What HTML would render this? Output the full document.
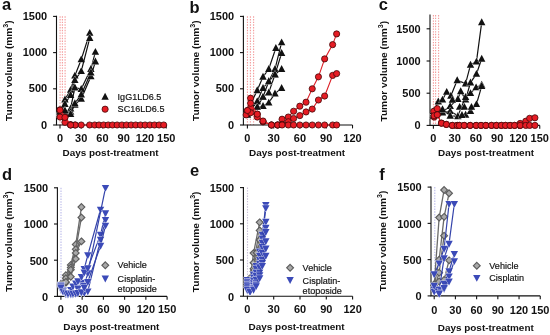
<!DOCTYPE html>
<html><head><meta charset="utf-8"><title>Figure</title>
<style>html,body{margin:0;padding:0;background:#fff}svg{display:block}text{font-family:"Liberation Sans",sans-serif;fill:#111}</style>
</head><body>
<svg width="550" height="335" viewBox="0 0 550 335">
<rect width="550" height="335" fill="#fff"/>
<text transform="translate(2 10.2) scale(1.03 1)" font-size="16" font-weight="700" text-anchor="start">a</text>
<line x1="60.1" x2="60.1" y1="16.3" y2="125.0" stroke="#f49c9c" stroke-width="1.1" stroke-dasharray="1.4 1.29"/>
<line x1="62.4" x2="62.4" y1="16.3" y2="125.0" stroke="#f49c9c" stroke-width="1.1" stroke-dasharray="1.4 1.29"/>
<line x1="65.1" x2="65.1" y1="16.3" y2="125.0" stroke="#f49c9c" stroke-width="1.1" stroke-dasharray="1.4 1.29"/>
<path d="M56.5 15.8V125.0H166.3" fill="none" stroke="#111" stroke-width="1.1"/>
<line x1="53.1" x2="56.5" y1="125" y2="125" stroke="#111" stroke-width="1.1"/>
<text transform="translate(47.2 128.65) scale(1.1 1)" font-size="10" font-weight="700" text-anchor="end">0</text>
<line x1="53.1" x2="56.5" y1="88.8" y2="88.8" stroke="#111" stroke-width="1.1"/>
<text transform="translate(47.2 92.45) scale(1.1 1)" font-size="10" font-weight="700" text-anchor="end">500</text>
<line x1="53.1" x2="56.5" y1="52.6" y2="52.6" stroke="#111" stroke-width="1.1"/>
<text transform="translate(47.2 56.25) scale(1.1 1)" font-size="10" font-weight="700" text-anchor="end">1000</text>
<line x1="53.1" x2="56.5" y1="16.4" y2="16.4" stroke="#111" stroke-width="1.1"/>
<text transform="translate(47.2 20.05) scale(1.1 1)" font-size="10" font-weight="700" text-anchor="end">1500</text>
<line x1="60" x2="60" y1="125.0" y2="128.4" stroke="#111" stroke-width="1.1"/>
<text transform="translate(60 142.3) scale(1.1 1)" font-size="10" font-weight="700" text-anchor="middle">0</text>
<line x1="81.24" x2="81.24" y1="125.0" y2="128.4" stroke="#111" stroke-width="1.1"/>
<text transform="translate(81.24 142.3) scale(1.1 1)" font-size="10" font-weight="700" text-anchor="middle">30</text>
<line x1="102.48" x2="102.48" y1="125.0" y2="128.4" stroke="#111" stroke-width="1.1"/>
<text transform="translate(102.48 142.3) scale(1.1 1)" font-size="10" font-weight="700" text-anchor="middle">60</text>
<line x1="123.72" x2="123.72" y1="125.0" y2="128.4" stroke="#111" stroke-width="1.1"/>
<text transform="translate(123.72 142.3) scale(1.1 1)" font-size="10" font-weight="700" text-anchor="middle">90</text>
<line x1="144.96" x2="144.96" y1="125.0" y2="128.4" stroke="#111" stroke-width="1.1"/>
<text transform="translate(144.96 142.3) scale(1.1 1)" font-size="10" font-weight="700" text-anchor="middle">120</text>
<line x1="166.2" x2="166.2" y1="125.0" y2="128.4" stroke="#111" stroke-width="1.1"/>
<text transform="translate(166.2 142.3) scale(1.1 1)" font-size="10" font-weight="700" text-anchor="middle">150</text>
<text transform="translate(110.5 156.2) scale(1.015 1)" font-size="9.8" font-weight="700" text-anchor="middle">Days post-treatment</text>
<text transform="translate(11.9 70.65) rotate(-90) scale(1.035 1)" font-size="9.8" font-weight="700" text-anchor="middle">Tumor volume (mm<tspan font-size="6.8" dy="-4">3</tspan><tspan dy="4">)</tspan></text>
<polyline points="60,112.69 64.96,99.59 70.62,89.89 74.87,75.7 81.24,59.48 89.74,32.91" fill="none" stroke="#111" stroke-width="1.2"/>
<path d="M60 108.7L63.7 115.58H56.3Z" fill="#111" stroke="#fff" stroke-width="0.6" paint-order="stroke"/>
<path d="M64.96 95.59L68.66 102.47H61.26Z" fill="#111" stroke="#fff" stroke-width="0.6" paint-order="stroke"/>
<path d="M70.62 85.89L74.32 92.77H66.92Z" fill="#111" stroke="#fff" stroke-width="0.6" paint-order="stroke"/>
<path d="M74.87 71.7L78.57 78.58H71.17Z" fill="#111" stroke="#fff" stroke-width="0.6" paint-order="stroke"/>
<path d="M81.24 55.48L84.94 62.36H77.54Z" fill="#111" stroke="#fff" stroke-width="0.6" paint-order="stroke"/>
<path d="M89.74 28.91L93.44 35.79H86.04Z" fill="#111" stroke="#fff" stroke-width="0.6" paint-order="stroke"/>
<polyline points="60,114.14 64.96,104 70.62,95.03 74.87,80.18 81.24,71.21 89.74,38.12" fill="none" stroke="#111" stroke-width="1.2"/>
<path d="M60 110.14L63.7 117.03H56.3Z" fill="#111" stroke="#fff" stroke-width="0.6" paint-order="stroke"/>
<path d="M64.96 100.01L68.66 106.89H61.26Z" fill="#111" stroke="#fff" stroke-width="0.6" paint-order="stroke"/>
<path d="M70.62 91.03L74.32 97.91H66.92Z" fill="#111" stroke="#fff" stroke-width="0.6" paint-order="stroke"/>
<path d="M74.87 76.19L78.57 83.07H71.17Z" fill="#111" stroke="#fff" stroke-width="0.6" paint-order="stroke"/>
<path d="M81.24 67.21L84.94 74.09H77.54Z" fill="#111" stroke="#fff" stroke-width="0.6" paint-order="stroke"/>
<path d="M89.74 34.12L93.44 41.01H86.04Z" fill="#111" stroke="#fff" stroke-width="0.6" paint-order="stroke"/>
<polyline points="60,110.52 64.96,112.62 70.62,108.49 74.87,87.57 81.24,89.02 90.87,69.03 95.4,51.88" fill="none" stroke="#111" stroke-width="1.2"/>
<path d="M60 106.52L63.7 113.41H56.3Z" fill="#111" stroke="#fff" stroke-width="0.6" paint-order="stroke"/>
<path d="M64.96 108.62L68.66 115.51H61.26Z" fill="#111" stroke="#fff" stroke-width="0.6" paint-order="stroke"/>
<path d="M70.62 104.5L74.32 111.38H66.92Z" fill="#111" stroke="#fff" stroke-width="0.6" paint-order="stroke"/>
<path d="M74.87 83.57L78.57 90.46H71.17Z" fill="#111" stroke="#fff" stroke-width="0.6" paint-order="stroke"/>
<path d="M81.24 85.02L84.94 91.9H77.54Z" fill="#111" stroke="#fff" stroke-width="0.6" paint-order="stroke"/>
<path d="M90.87 65.04L94.57 71.92H87.17Z" fill="#111" stroke="#fff" stroke-width="0.6" paint-order="stroke"/>
<path d="M95.4 47.88L99.1 54.76H91.7Z" fill="#111" stroke="#fff" stroke-width="0.6" paint-order="stroke"/>
<polyline points="60,114.14 64.96,112.62 70.62,111.9 74.87,104.8 81.24,98.79 90.87,76.42 95.4,61.58" fill="none" stroke="#111" stroke-width="1.2"/>
<path d="M60 110.14L63.7 117.03H56.3Z" fill="#111" stroke="#fff" stroke-width="0.6" paint-order="stroke"/>
<path d="M64.96 108.62L68.66 115.51H61.26Z" fill="#111" stroke="#fff" stroke-width="0.6" paint-order="stroke"/>
<path d="M70.62 107.9L74.32 114.78H66.92Z" fill="#111" stroke="#fff" stroke-width="0.6" paint-order="stroke"/>
<path d="M74.87 100.8L78.57 107.69H71.17Z" fill="#111" stroke="#fff" stroke-width="0.6" paint-order="stroke"/>
<path d="M81.24 94.8L84.94 101.68H77.54Z" fill="#111" stroke="#fff" stroke-width="0.6" paint-order="stroke"/>
<path d="M90.87 72.42L94.57 79.31H87.17Z" fill="#111" stroke="#fff" stroke-width="0.6" paint-order="stroke"/>
<path d="M95.4 57.58L99.1 64.46H91.7Z" fill="#111" stroke="#fff" stroke-width="0.6" paint-order="stroke"/>
<polyline points="60,111.97 64.96,110.52 70.62,114.14 74.87,103.28 81.24,94.59 90.87,72.73" fill="none" stroke="#111" stroke-width="1.2"/>
<path d="M60 107.97L63.7 114.85H56.3Z" fill="#111" stroke="#fff" stroke-width="0.6" paint-order="stroke"/>
<path d="M64.96 106.52L68.66 113.41H61.26Z" fill="#111" stroke="#fff" stroke-width="0.6" paint-order="stroke"/>
<path d="M70.62 110.14L74.32 117.03H66.92Z" fill="#111" stroke="#fff" stroke-width="0.6" paint-order="stroke"/>
<path d="M74.87 99.28L78.57 106.17H71.17Z" fill="#111" stroke="#fff" stroke-width="0.6" paint-order="stroke"/>
<path d="M81.24 90.6L84.94 97.48H77.54Z" fill="#111" stroke="#fff" stroke-width="0.6" paint-order="stroke"/>
<path d="M90.87 68.73L94.57 75.61H87.17Z" fill="#111" stroke="#fff" stroke-width="0.6" paint-order="stroke"/>
<polyline points="60,109.8 64.96,117.04 70.62,124.64 75.1,125 81.2,125 89.6,125 94.7,125 99,125 103.6,125 108.2,125 112.5,125 117.1,125 121.9,125 126.5,125 131.1,125 135.7,125 140.5,125 145.1,125 149.9,125 154.5,125 159.1,125 163.7,125" fill="none" stroke="#dc1f26" stroke-width="1.1"/>
<circle cx="60" cy="109.8" r="3.1" fill="#e61c24" stroke="#420909" stroke-width="0.8"/>
<circle cx="64.96" cy="117.04" r="3.1" fill="#e61c24" stroke="#420909" stroke-width="0.8"/>
<circle cx="70.62" cy="124.64" r="3.1" fill="#e61c24" stroke="#420909" stroke-width="0.8"/>
<circle cx="75.1" cy="125" r="3.1" fill="#e61c24" stroke="#420909" stroke-width="0.8"/>
<circle cx="81.2" cy="125" r="3.1" fill="#e61c24" stroke="#420909" stroke-width="0.8"/>
<circle cx="89.6" cy="125" r="3.1" fill="#e61c24" stroke="#420909" stroke-width="0.8"/>
<circle cx="94.7" cy="125" r="3.1" fill="#e61c24" stroke="#420909" stroke-width="0.8"/>
<circle cx="99" cy="125" r="3.1" fill="#e61c24" stroke="#420909" stroke-width="0.8"/>
<circle cx="103.6" cy="125" r="3.1" fill="#e61c24" stroke="#420909" stroke-width="0.8"/>
<circle cx="108.2" cy="125" r="3.1" fill="#e61c24" stroke="#420909" stroke-width="0.8"/>
<circle cx="112.5" cy="125" r="3.1" fill="#e61c24" stroke="#420909" stroke-width="0.8"/>
<circle cx="117.1" cy="125" r="3.1" fill="#e61c24" stroke="#420909" stroke-width="0.8"/>
<circle cx="121.9" cy="125" r="3.1" fill="#e61c24" stroke="#420909" stroke-width="0.8"/>
<circle cx="126.5" cy="125" r="3.1" fill="#e61c24" stroke="#420909" stroke-width="0.8"/>
<circle cx="131.1" cy="125" r="3.1" fill="#e61c24" stroke="#420909" stroke-width="0.8"/>
<circle cx="135.7" cy="125" r="3.1" fill="#e61c24" stroke="#420909" stroke-width="0.8"/>
<circle cx="140.5" cy="125" r="3.1" fill="#e61c24" stroke="#420909" stroke-width="0.8"/>
<circle cx="145.1" cy="125" r="3.1" fill="#e61c24" stroke="#420909" stroke-width="0.8"/>
<circle cx="149.9" cy="125" r="3.1" fill="#e61c24" stroke="#420909" stroke-width="0.8"/>
<circle cx="154.5" cy="125" r="3.1" fill="#e61c24" stroke="#420909" stroke-width="0.8"/>
<circle cx="159.1" cy="125" r="3.1" fill="#e61c24" stroke="#420909" stroke-width="0.8"/>
<circle cx="163.7" cy="125" r="3.1" fill="#e61c24" stroke="#420909" stroke-width="0.8"/>
<polyline points="60,117.04 64.96,122.32 70.62,125 75.22,125" fill="none" stroke="#dc1f26" stroke-width="1.1"/>
<circle cx="60" cy="117.04" r="3.1" fill="#e61c24" stroke="#420909" stroke-width="0.8"/>
<circle cx="64.96" cy="122.32" r="3.1" fill="#e61c24" stroke="#420909" stroke-width="0.8"/>
<circle cx="70.62" cy="125" r="3.1" fill="#e61c24" stroke="#420909" stroke-width="0.8"/>
<circle cx="75.22" cy="125" r="3.1" fill="#e61c24" stroke="#420909" stroke-width="0.8"/>
<polyline points="60,110.16 64.96,117.4 70.62,125" fill="none" stroke="#dc1f26" stroke-width="1.1"/>
<circle cx="60" cy="110.16" r="3.1" fill="#e61c24" stroke="#420909" stroke-width="0.8"/>
<circle cx="64.96" cy="117.4" r="3.1" fill="#e61c24" stroke="#420909" stroke-width="0.8"/>
<circle cx="70.62" cy="125" r="3.1" fill="#e61c24" stroke="#420909" stroke-width="0.8"/>
<path d="M105.1 92.8L108.8 99.69H101.4Z" fill="#111" stroke="#fff" stroke-width="0.6" paint-order="stroke"/>
<text transform="translate(117.6 99.5) scale(0.985 1)" font-size="9.2" stroke="#111" stroke-width="0.18" text-anchor="start">IgG1LD6.5</text>
<circle cx="105.1" cy="109.2" r="3.1" fill="#e61c24" stroke="#420909" stroke-width="0.8"/>
<text transform="translate(117.6 111.9) scale(0.985 1)" font-size="9.2" stroke="#111" stroke-width="0.18" text-anchor="start">SC16LD6.5</text>
<text transform="translate(189.6 13) scale(1.03 1)" font-size="16" font-weight="700" text-anchor="start">b</text>
<line x1="247.45" x2="247.45" y1="16.3" y2="125.0" stroke="#f49c9c" stroke-width="1.1" stroke-dasharray="1.4 1.29"/>
<line x1="250.4" x2="250.4" y1="16.3" y2="125.0" stroke="#f49c9c" stroke-width="1.1" stroke-dasharray="1.4 1.29"/>
<line x1="253.6" x2="253.6" y1="16.3" y2="125.0" stroke="#f49c9c" stroke-width="1.1" stroke-dasharray="1.4 1.29"/>
<path d="M243.4 15.8V125.0H352.5" fill="none" stroke="#111" stroke-width="1.1"/>
<line x1="240.0" x2="243.4" y1="125" y2="125" stroke="#111" stroke-width="1.1"/>
<text transform="translate(234.1 128.65) scale(1.1 1)" font-size="10" font-weight="700" text-anchor="end">0</text>
<line x1="240.0" x2="243.4" y1="88.8" y2="88.8" stroke="#111" stroke-width="1.1"/>
<text transform="translate(234.1 92.45) scale(1.1 1)" font-size="10" font-weight="700" text-anchor="end">500</text>
<line x1="240.0" x2="243.4" y1="52.6" y2="52.6" stroke="#111" stroke-width="1.1"/>
<text transform="translate(234.1 56.25) scale(1.1 1)" font-size="10" font-weight="700" text-anchor="end">1000</text>
<line x1="240.0" x2="243.4" y1="16.4" y2="16.4" stroke="#111" stroke-width="1.1"/>
<text transform="translate(234.1 20.05) scale(1.1 1)" font-size="10" font-weight="700" text-anchor="end">1500</text>
<line x1="247.4" x2="247.4" y1="125.0" y2="128.4" stroke="#111" stroke-width="1.1"/>
<text transform="translate(247.4 142.3) scale(1.1 1)" font-size="10" font-weight="700" text-anchor="middle">0</text>
<line x1="273.68" x2="273.68" y1="125.0" y2="128.4" stroke="#111" stroke-width="1.1"/>
<text transform="translate(273.68 142.3) scale(1.1 1)" font-size="10" font-weight="700" text-anchor="middle">30</text>
<line x1="299.96" x2="299.96" y1="125.0" y2="128.4" stroke="#111" stroke-width="1.1"/>
<text transform="translate(299.96 142.3) scale(1.1 1)" font-size="10" font-weight="700" text-anchor="middle">60</text>
<line x1="326.24" x2="326.24" y1="125.0" y2="128.4" stroke="#111" stroke-width="1.1"/>
<text transform="translate(326.24 142.3) scale(1.1 1)" font-size="10" font-weight="700" text-anchor="middle">90</text>
<line x1="352.52" x2="352.52" y1="125.0" y2="128.4" stroke="#111" stroke-width="1.1"/>
<text transform="translate(352.52 142.3) scale(1.1 1)" font-size="10" font-weight="700" text-anchor="middle">120</text>
<text transform="translate(297.05 156.2) scale(1.015 1)" font-size="9.8" font-weight="700" text-anchor="middle">Days post-treatment</text>
<text transform="translate(198.8 70.65) rotate(-90) scale(1.035 1)" font-size="9.8" font-weight="700" text-anchor="middle">Tumor volume (mm<tspan font-size="6.8" dy="-4">3</tspan><tspan dy="4">)</tspan></text>
<polyline points="247.49,111.97 257.25,106.97 263.01,106.03 268.77,102.63 274.99,93.58 281.63,88" fill="none" stroke="#111" stroke-width="1.2"/>
<path d="M247.49 107.97L251.19 114.85H243.79Z" fill="#111" stroke="#fff" stroke-width="0.6" paint-order="stroke"/>
<path d="M257.25 102.98L260.95 109.86H253.55Z" fill="#111" stroke="#fff" stroke-width="0.6" paint-order="stroke"/>
<path d="M263.01 102.04L266.71 108.92H259.31Z" fill="#111" stroke="#fff" stroke-width="0.6" paint-order="stroke"/>
<path d="M268.77 98.63L272.47 105.51H265.07Z" fill="#111" stroke="#fff" stroke-width="0.6" paint-order="stroke"/>
<path d="M274.99 89.58L278.69 96.46H271.29Z" fill="#111" stroke="#fff" stroke-width="0.6" paint-order="stroke"/>
<path d="M281.63 84.01L285.33 90.89H277.93Z" fill="#111" stroke="#fff" stroke-width="0.6" paint-order="stroke"/>
<polyline points="247.49,114.14 257.25,101.47 263.01,96.98 268.77,92.49 274.99,74.61 281.63,53.03" fill="none" stroke="#111" stroke-width="1.2"/>
<path d="M247.49 110.14L251.19 117.03H243.79Z" fill="#111" stroke="#fff" stroke-width="0.6" paint-order="stroke"/>
<path d="M257.25 97.47L260.95 104.36H253.55Z" fill="#111" stroke="#fff" stroke-width="0.6" paint-order="stroke"/>
<path d="M263.01 92.99L266.71 99.87H259.31Z" fill="#111" stroke="#fff" stroke-width="0.6" paint-order="stroke"/>
<path d="M268.77 88.5L272.47 95.38H265.07Z" fill="#111" stroke="#fff" stroke-width="0.6" paint-order="stroke"/>
<path d="M274.99 70.61L278.69 77.5H271.29Z" fill="#111" stroke="#fff" stroke-width="0.6" paint-order="stroke"/>
<path d="M281.63 49.04L285.33 55.92H277.93Z" fill="#111" stroke="#fff" stroke-width="0.6" paint-order="stroke"/>
<polyline points="247.49,110.52 257.25,90.32 263.01,76.78 268.77,69.03 275.87,48.04" fill="none" stroke="#111" stroke-width="1.2"/>
<path d="M247.49 106.52L251.19 113.41H243.79Z" fill="#111" stroke="#fff" stroke-width="0.6" paint-order="stroke"/>
<path d="M257.25 86.32L260.95 93.21H253.55Z" fill="#111" stroke="#fff" stroke-width="0.6" paint-order="stroke"/>
<path d="M263.01 72.79L266.71 79.67H259.31Z" fill="#111" stroke="#fff" stroke-width="0.6" paint-order="stroke"/>
<path d="M268.77 65.04L272.47 71.92H265.07Z" fill="#111" stroke="#fff" stroke-width="0.6" paint-order="stroke"/>
<path d="M275.87 44.04L279.57 50.92H272.17Z" fill="#111" stroke="#fff" stroke-width="0.6" paint-order="stroke"/>
<polyline points="247.49,113.42 257.25,101.47 263.01,88 268.77,81.27 274.99,69.03 281.63,42.39" fill="none" stroke="#111" stroke-width="1.2"/>
<path d="M247.49 109.42L251.19 116.3H243.79Z" fill="#111" stroke="#fff" stroke-width="0.6" paint-order="stroke"/>
<path d="M257.25 97.47L260.95 104.36H253.55Z" fill="#111" stroke="#fff" stroke-width="0.6" paint-order="stroke"/>
<path d="M263.01 84.01L266.71 90.89H259.31Z" fill="#111" stroke="#fff" stroke-width="0.6" paint-order="stroke"/>
<path d="M268.77 77.27L272.47 84.16H265.07Z" fill="#111" stroke="#fff" stroke-width="0.6" paint-order="stroke"/>
<path d="M274.99 65.04L278.69 71.92H271.29Z" fill="#111" stroke="#fff" stroke-width="0.6" paint-order="stroke"/>
<path d="M281.63 38.4L285.33 45.28H277.93Z" fill="#111" stroke="#fff" stroke-width="0.6" paint-order="stroke"/>
<polyline points="247.49,114.86 257.25,106.97 263.01,96.98 268.77,81.27 274.99,74.61 281.63,69.03" fill="none" stroke="#111" stroke-width="1.2"/>
<path d="M247.49 110.87L251.19 117.75H243.79Z" fill="#111" stroke="#fff" stroke-width="0.6" paint-order="stroke"/>
<path d="M257.25 102.98L260.95 109.86H253.55Z" fill="#111" stroke="#fff" stroke-width="0.6" paint-order="stroke"/>
<path d="M263.01 92.99L266.71 99.87H259.31Z" fill="#111" stroke="#fff" stroke-width="0.6" paint-order="stroke"/>
<path d="M268.77 77.27L272.47 84.16H265.07Z" fill="#111" stroke="#fff" stroke-width="0.6" paint-order="stroke"/>
<path d="M274.99 70.61L278.69 77.5H271.29Z" fill="#111" stroke="#fff" stroke-width="0.6" paint-order="stroke"/>
<path d="M281.63 65.04L285.33 71.92H277.93Z" fill="#111" stroke="#fff" stroke-width="0.6" paint-order="stroke"/>
<polyline points="247.49,110.52 250.59,98.21 250.59,108.35 257.25,114.14 263.01,121.74 271.44,125 277.65,125 282.08,119.21 288.29,117.04 293.61,111.24 299.82,106.18 306.03,102.19 312.24,88.8 318.44,76.85 324.65,58.9 332.64,44.64 336.63,33.92" fill="none" stroke="#dc1f26" stroke-width="1.1"/>
<circle cx="247.49" cy="110.52" r="3.1" fill="#e61c24" stroke="#420909" stroke-width="0.8"/>
<circle cx="250.59" cy="98.21" r="3.1" fill="#e61c24" stroke="#420909" stroke-width="0.8"/>
<circle cx="250.59" cy="108.35" r="3.1" fill="#e61c24" stroke="#420909" stroke-width="0.8"/>
<circle cx="257.25" cy="114.14" r="3.1" fill="#e61c24" stroke="#420909" stroke-width="0.8"/>
<circle cx="263.01" cy="121.74" r="3.1" fill="#e61c24" stroke="#420909" stroke-width="0.8"/>
<circle cx="271.44" cy="125" r="3.1" fill="#e61c24" stroke="#420909" stroke-width="0.8"/>
<circle cx="277.65" cy="125" r="3.1" fill="#e61c24" stroke="#420909" stroke-width="0.8"/>
<circle cx="282.08" cy="119.21" r="3.1" fill="#e61c24" stroke="#420909" stroke-width="0.8"/>
<circle cx="288.29" cy="117.04" r="3.1" fill="#e61c24" stroke="#420909" stroke-width="0.8"/>
<circle cx="293.61" cy="111.24" r="3.1" fill="#e61c24" stroke="#420909" stroke-width="0.8"/>
<circle cx="299.82" cy="106.18" r="3.1" fill="#e61c24" stroke="#420909" stroke-width="0.8"/>
<circle cx="306.03" cy="102.19" r="3.1" fill="#e61c24" stroke="#420909" stroke-width="0.8"/>
<circle cx="312.24" cy="88.8" r="3.1" fill="#e61c24" stroke="#420909" stroke-width="0.8"/>
<circle cx="318.44" cy="76.85" r="3.1" fill="#e61c24" stroke="#420909" stroke-width="0.8"/>
<circle cx="324.65" cy="58.9" r="3.1" fill="#e61c24" stroke="#420909" stroke-width="0.8"/>
<circle cx="332.64" cy="44.64" r="3.1" fill="#e61c24" stroke="#420909" stroke-width="0.8"/>
<circle cx="336.63" cy="33.92" r="3.1" fill="#e61c24" stroke="#420909" stroke-width="0.8"/>
<polyline points="246.16,114.86 250.59,112.69 257.25,117.04 263.01,121.74 271.44,125 277.65,125 282.08,124.28 288.29,121.74 293.61,118.48 299.82,115.59 306.03,111.97 312.24,109.07 318.44,100.02 324.65,96.04 332.64,75.41 336.63,73.6" fill="none" stroke="#dc1f26" stroke-width="1.1"/>
<circle cx="246.16" cy="114.86" r="3.1" fill="#e61c24" stroke="#420909" stroke-width="0.8"/>
<circle cx="250.59" cy="112.69" r="3.1" fill="#e61c24" stroke="#420909" stroke-width="0.8"/>
<circle cx="257.25" cy="117.04" r="3.1" fill="#e61c24" stroke="#420909" stroke-width="0.8"/>
<circle cx="263.01" cy="121.74" r="3.1" fill="#e61c24" stroke="#420909" stroke-width="0.8"/>
<circle cx="271.44" cy="125" r="3.1" fill="#e61c24" stroke="#420909" stroke-width="0.8"/>
<circle cx="277.65" cy="125" r="3.1" fill="#e61c24" stroke="#420909" stroke-width="0.8"/>
<circle cx="282.08" cy="124.28" r="3.1" fill="#e61c24" stroke="#420909" stroke-width="0.8"/>
<circle cx="288.29" cy="121.74" r="3.1" fill="#e61c24" stroke="#420909" stroke-width="0.8"/>
<circle cx="293.61" cy="118.48" r="3.1" fill="#e61c24" stroke="#420909" stroke-width="0.8"/>
<circle cx="299.82" cy="115.59" r="3.1" fill="#e61c24" stroke="#420909" stroke-width="0.8"/>
<circle cx="306.03" cy="111.97" r="3.1" fill="#e61c24" stroke="#420909" stroke-width="0.8"/>
<circle cx="312.24" cy="109.07" r="3.1" fill="#e61c24" stroke="#420909" stroke-width="0.8"/>
<circle cx="318.44" cy="100.02" r="3.1" fill="#e61c24" stroke="#420909" stroke-width="0.8"/>
<circle cx="324.65" cy="96.04" r="3.1" fill="#e61c24" stroke="#420909" stroke-width="0.8"/>
<circle cx="332.64" cy="75.41" r="3.1" fill="#e61c24" stroke="#420909" stroke-width="0.8"/>
<circle cx="336.63" cy="73.6" r="3.1" fill="#e61c24" stroke="#420909" stroke-width="0.8"/>
<polyline points="247.49,110.52 250.59,103.28 257.25,114.14 263.01,121.02 271.44,125 277.65,125 282.08,125 288.29,125 293.61,125 299.82,125 306.03,125 312.24,125 318.44,125 324.65,125 332.64,125 336.63,125" fill="none" stroke="#dc1f26" stroke-width="1.1"/>
<circle cx="247.49" cy="110.52" r="3.1" fill="#e61c24" stroke="#420909" stroke-width="0.8"/>
<circle cx="250.59" cy="103.28" r="3.1" fill="#e61c24" stroke="#420909" stroke-width="0.8"/>
<circle cx="257.25" cy="114.14" r="3.1" fill="#e61c24" stroke="#420909" stroke-width="0.8"/>
<circle cx="263.01" cy="121.02" r="3.1" fill="#e61c24" stroke="#420909" stroke-width="0.8"/>
<circle cx="271.44" cy="125" r="3.1" fill="#e61c24" stroke="#420909" stroke-width="0.8"/>
<circle cx="277.65" cy="125" r="3.1" fill="#e61c24" stroke="#420909" stroke-width="0.8"/>
<circle cx="282.08" cy="125" r="3.1" fill="#e61c24" stroke="#420909" stroke-width="0.8"/>
<circle cx="288.29" cy="125" r="3.1" fill="#e61c24" stroke="#420909" stroke-width="0.8"/>
<circle cx="293.61" cy="125" r="3.1" fill="#e61c24" stroke="#420909" stroke-width="0.8"/>
<circle cx="299.82" cy="125" r="3.1" fill="#e61c24" stroke="#420909" stroke-width="0.8"/>
<circle cx="306.03" cy="125" r="3.1" fill="#e61c24" stroke="#420909" stroke-width="0.8"/>
<circle cx="312.24" cy="125" r="3.1" fill="#e61c24" stroke="#420909" stroke-width="0.8"/>
<circle cx="318.44" cy="125" r="3.1" fill="#e61c24" stroke="#420909" stroke-width="0.8"/>
<circle cx="324.65" cy="125" r="3.1" fill="#e61c24" stroke="#420909" stroke-width="0.8"/>
<circle cx="332.64" cy="125" r="3.1" fill="#e61c24" stroke="#420909" stroke-width="0.8"/>
<circle cx="336.63" cy="125" r="3.1" fill="#e61c24" stroke="#420909" stroke-width="0.8"/>
<text transform="translate(378.8 10.2) scale(1.03 1)" font-size="16" font-weight="700" text-anchor="start">c</text>
<line x1="433.4" x2="433.4" y1="15" y2="125.4" stroke="#f49c9c" stroke-width="1.1" stroke-dasharray="1.4 1.29"/>
<line x1="435.6" x2="435.6" y1="15" y2="125.4" stroke="#f49c9c" stroke-width="1.1" stroke-dasharray="1.4 1.29"/>
<line x1="438.6" x2="438.6" y1="15" y2="125.4" stroke="#f49c9c" stroke-width="1.1" stroke-dasharray="1.4 1.29"/>
<path d="M430 14.5V125.4H539.8" fill="none" stroke="#111" stroke-width="1.1"/>
<line x1="426.6" x2="430" y1="125.4" y2="125.4" stroke="#111" stroke-width="1.1"/>
<text transform="translate(420.7 129.45) scale(1.1 1)" font-size="10" font-weight="700" text-anchor="end">0</text>
<line x1="426.6" x2="430" y1="93.2" y2="93.2" stroke="#111" stroke-width="1.1"/>
<text transform="translate(420.7 97.25) scale(1.1 1)" font-size="10" font-weight="700" text-anchor="end">500</text>
<line x1="426.6" x2="430" y1="61" y2="61" stroke="#111" stroke-width="1.1"/>
<text transform="translate(420.7 65.05) scale(1.1 1)" font-size="10" font-weight="700" text-anchor="end">1000</text>
<line x1="426.6" x2="430" y1="28.8" y2="28.8" stroke="#111" stroke-width="1.1"/>
<text transform="translate(420.7 32.85) scale(1.1 1)" font-size="10" font-weight="700" text-anchor="end">1500</text>
<line x1="433.4" x2="433.4" y1="125.4" y2="128.8" stroke="#111" stroke-width="1.1"/>
<text transform="translate(433.4 142.2) scale(1.1 1)" font-size="10" font-weight="700" text-anchor="middle">0</text>
<line x1="454.67" x2="454.67" y1="125.4" y2="128.8" stroke="#111" stroke-width="1.1"/>
<text transform="translate(454.67 142.2) scale(1.1 1)" font-size="10" font-weight="700" text-anchor="middle">30</text>
<line x1="475.94" x2="475.94" y1="125.4" y2="128.8" stroke="#111" stroke-width="1.1"/>
<text transform="translate(475.94 142.2) scale(1.1 1)" font-size="10" font-weight="700" text-anchor="middle">60</text>
<line x1="497.21" x2="497.21" y1="125.4" y2="128.8" stroke="#111" stroke-width="1.1"/>
<text transform="translate(497.21 142.2) scale(1.1 1)" font-size="10" font-weight="700" text-anchor="middle">90</text>
<line x1="518.48" x2="518.48" y1="125.4" y2="128.8" stroke="#111" stroke-width="1.1"/>
<text transform="translate(518.48 142.2) scale(1.1 1)" font-size="10" font-weight="700" text-anchor="middle">120</text>
<line x1="539.75" x2="539.75" y1="125.4" y2="128.8" stroke="#111" stroke-width="1.1"/>
<text transform="translate(539.75 142.2) scale(1.1 1)" font-size="10" font-weight="700" text-anchor="middle">150</text>
<text transform="translate(486 156.1) scale(1.015 1)" font-size="9.8" font-weight="700" text-anchor="middle">Days post-treatment</text>
<text transform="translate(386.6 71.2) rotate(-90) scale(1.035 1)" font-size="9.8" font-weight="700" text-anchor="middle">Tumor volume (mm<tspan font-size="6.8" dy="-4">3</tspan><tspan dy="4">)</tspan></text>
<polyline points="433.4,112.52 438.3,101.57 442.5,99.64 446.7,91.91 450.9,95.78 457.2,80.32 465.6,83.54 470.5,64.86 476.45,61.64 481.7,22.36" fill="none" stroke="#111" stroke-width="1.2"/>
<path d="M433.4 108.52L437.1 115.41H429.7Z" fill="#111" stroke="#fff" stroke-width="0.6" paint-order="stroke"/>
<path d="M438.3 97.58L442 104.46H434.6Z" fill="#111" stroke="#fff" stroke-width="0.6" paint-order="stroke"/>
<path d="M442.5 95.64L446.2 102.53H438.8Z" fill="#111" stroke="#fff" stroke-width="0.6" paint-order="stroke"/>
<path d="M446.7 87.92L450.4 94.8H443Z" fill="#111" stroke="#fff" stroke-width="0.6" paint-order="stroke"/>
<path d="M450.9 91.78L454.6 98.66H447.2Z" fill="#111" stroke="#fff" stroke-width="0.6" paint-order="stroke"/>
<path d="M457.2 76.32L460.9 83.21H453.5Z" fill="#111" stroke="#fff" stroke-width="0.6" paint-order="stroke"/>
<path d="M465.6 79.54L469.3 86.43H461.9Z" fill="#111" stroke="#fff" stroke-width="0.6" paint-order="stroke"/>
<path d="M470.5 60.87L474.2 67.75H466.8Z" fill="#111" stroke="#fff" stroke-width="0.6" paint-order="stroke"/>
<path d="M476.45 57.65L480.15 64.53H472.75Z" fill="#111" stroke="#fff" stroke-width="0.6" paint-order="stroke"/>
<path d="M481.7 18.36L485.4 25.25H478Z" fill="#111" stroke="#fff" stroke-width="0.6" paint-order="stroke"/>
<polyline points="433.4,113.81 438.3,112.52 442.5,111.88 450.2,106.08 457.9,99 460.7,91.27 465.6,99.64 470.5,82.57 476.45,73.88 481.7,58.75" fill="none" stroke="#111" stroke-width="1.2"/>
<path d="M433.4 109.81L437.1 116.69H429.7Z" fill="#111" stroke="#fff" stroke-width="0.6" paint-order="stroke"/>
<path d="M438.3 108.52L442 115.41H434.6Z" fill="#111" stroke="#fff" stroke-width="0.6" paint-order="stroke"/>
<path d="M442.5 107.88L446.2 114.76H438.8Z" fill="#111" stroke="#fff" stroke-width="0.6" paint-order="stroke"/>
<path d="M450.2 102.08L453.9 108.97H446.5Z" fill="#111" stroke="#fff" stroke-width="0.6" paint-order="stroke"/>
<path d="M457.9 95L461.6 101.88H454.2Z" fill="#111" stroke="#fff" stroke-width="0.6" paint-order="stroke"/>
<path d="M460.7 87.27L464.4 94.15H457Z" fill="#111" stroke="#fff" stroke-width="0.6" paint-order="stroke"/>
<path d="M465.6 95.64L469.3 102.53H461.9Z" fill="#111" stroke="#fff" stroke-width="0.6" paint-order="stroke"/>
<path d="M470.5 78.58L474.2 85.46H466.8Z" fill="#111" stroke="#fff" stroke-width="0.6" paint-order="stroke"/>
<path d="M476.45 69.88L480.15 76.77H472.75Z" fill="#111" stroke="#fff" stroke-width="0.6" paint-order="stroke"/>
<path d="M481.7 54.75L485.4 61.63H478Z" fill="#111" stroke="#fff" stroke-width="0.6" paint-order="stroke"/>
<polyline points="433.4,115.74 442.5,112.52 450.2,111.23 457.9,115.74 465.6,97.06 470.5,93.2 476.1,87.4 481.7,84.83" fill="none" stroke="#111" stroke-width="1.2"/>
<path d="M433.4 111.74L437.1 118.63H429.7Z" fill="#111" stroke="#fff" stroke-width="0.6" paint-order="stroke"/>
<path d="M442.5 108.52L446.2 115.41H438.8Z" fill="#111" stroke="#fff" stroke-width="0.6" paint-order="stroke"/>
<path d="M450.2 107.24L453.9 114.12H446.5Z" fill="#111" stroke="#fff" stroke-width="0.6" paint-order="stroke"/>
<path d="M457.9 111.74L461.6 118.63H454.2Z" fill="#111" stroke="#fff" stroke-width="0.6" paint-order="stroke"/>
<path d="M465.6 93.07L469.3 99.95H461.9Z" fill="#111" stroke="#fff" stroke-width="0.6" paint-order="stroke"/>
<path d="M470.5 89.2L474.2 96.09H466.8Z" fill="#111" stroke="#fff" stroke-width="0.6" paint-order="stroke"/>
<path d="M476.1 83.41L479.8 90.29H472.4Z" fill="#111" stroke="#fff" stroke-width="0.6" paint-order="stroke"/>
<path d="M481.7 80.83L485.4 87.71H478Z" fill="#111" stroke="#fff" stroke-width="0.6" paint-order="stroke"/>
<polyline points="433.4,111.23 442.5,109.3 450.2,115.74 457.9,116.38 465.6,114.77 470.5,111.23 476.45,104.15 481.7,86.12" fill="none" stroke="#111" stroke-width="1.2"/>
<path d="M433.4 107.24L437.1 114.12H429.7Z" fill="#111" stroke="#fff" stroke-width="0.6" paint-order="stroke"/>
<path d="M442.5 105.3L446.2 112.19H438.8Z" fill="#111" stroke="#fff" stroke-width="0.6" paint-order="stroke"/>
<path d="M450.2 111.74L453.9 118.63H446.5Z" fill="#111" stroke="#fff" stroke-width="0.6" paint-order="stroke"/>
<path d="M457.9 112.39L461.6 119.27H454.2Z" fill="#111" stroke="#fff" stroke-width="0.6" paint-order="stroke"/>
<path d="M465.6 110.78L469.3 117.66H461.9Z" fill="#111" stroke="#fff" stroke-width="0.6" paint-order="stroke"/>
<path d="M470.5 107.24L474.2 114.12H466.8Z" fill="#111" stroke="#fff" stroke-width="0.6" paint-order="stroke"/>
<path d="M476.45 100.15L480.15 107.03H472.75Z" fill="#111" stroke="#fff" stroke-width="0.6" paint-order="stroke"/>
<path d="M481.7 82.12L485.4 89H478Z" fill="#111" stroke="#fff" stroke-width="0.6" paint-order="stroke"/>
<polyline points="433.75,111.23 437.25,108.66 434.1,117.03 437.25,114.77 441.45,123.15 446.35,124.43 452.3,125.4 457.2,125.4 459.3,125.4 464.2,125.4 470.15,125.4 476.1,125.4 481,125.4 485.9,125.4 491.5,125.4 496.4,125.4 501.3,125.4 505.5,125.4 510.05,125.4 514.6,125.4 520.2,125.4 520.2,123.47 525.8,121.21 529.65,118.32 534.9,117.8" fill="none" stroke="#dc1f26" stroke-width="1.1"/>
<circle cx="433.75" cy="111.23" r="3.1" fill="#e61c24" stroke="#420909" stroke-width="0.8"/>
<circle cx="437.25" cy="108.66" r="3.1" fill="#e61c24" stroke="#420909" stroke-width="0.8"/>
<circle cx="434.1" cy="117.03" r="3.1" fill="#e61c24" stroke="#420909" stroke-width="0.8"/>
<circle cx="437.25" cy="114.77" r="3.1" fill="#e61c24" stroke="#420909" stroke-width="0.8"/>
<circle cx="441.45" cy="123.15" r="3.1" fill="#e61c24" stroke="#420909" stroke-width="0.8"/>
<circle cx="446.35" cy="124.43" r="3.1" fill="#e61c24" stroke="#420909" stroke-width="0.8"/>
<circle cx="452.3" cy="125.4" r="3.1" fill="#e61c24" stroke="#420909" stroke-width="0.8"/>
<circle cx="457.2" cy="125.4" r="3.1" fill="#e61c24" stroke="#420909" stroke-width="0.8"/>
<circle cx="459.3" cy="125.4" r="3.1" fill="#e61c24" stroke="#420909" stroke-width="0.8"/>
<circle cx="464.2" cy="125.4" r="3.1" fill="#e61c24" stroke="#420909" stroke-width="0.8"/>
<circle cx="470.15" cy="125.4" r="3.1" fill="#e61c24" stroke="#420909" stroke-width="0.8"/>
<circle cx="476.1" cy="125.4" r="3.1" fill="#e61c24" stroke="#420909" stroke-width="0.8"/>
<circle cx="481" cy="125.4" r="3.1" fill="#e61c24" stroke="#420909" stroke-width="0.8"/>
<circle cx="485.9" cy="125.4" r="3.1" fill="#e61c24" stroke="#420909" stroke-width="0.8"/>
<circle cx="491.5" cy="125.4" r="3.1" fill="#e61c24" stroke="#420909" stroke-width="0.8"/>
<circle cx="496.4" cy="125.4" r="3.1" fill="#e61c24" stroke="#420909" stroke-width="0.8"/>
<circle cx="501.3" cy="125.4" r="3.1" fill="#e61c24" stroke="#420909" stroke-width="0.8"/>
<circle cx="505.5" cy="125.4" r="3.1" fill="#e61c24" stroke="#420909" stroke-width="0.8"/>
<circle cx="510.05" cy="125.4" r="3.1" fill="#e61c24" stroke="#420909" stroke-width="0.8"/>
<circle cx="514.6" cy="125.4" r="3.1" fill="#e61c24" stroke="#420909" stroke-width="0.8"/>
<circle cx="520.2" cy="125.4" r="3.1" fill="#e61c24" stroke="#420909" stroke-width="0.8"/>
<circle cx="520.2" cy="123.47" r="3.1" fill="#e61c24" stroke="#420909" stroke-width="0.8"/>
<circle cx="525.8" cy="121.21" r="3.1" fill="#e61c24" stroke="#420909" stroke-width="0.8"/>
<circle cx="529.65" cy="118.32" r="3.1" fill="#e61c24" stroke="#420909" stroke-width="0.8"/>
<circle cx="534.9" cy="117.8" r="3.1" fill="#e61c24" stroke="#420909" stroke-width="0.8"/>
<polyline points="434.1,115.74 437.25,114.77 441.45,123.15 446.35,124.43 452.3,125.4 457.2,125.4 459.3,125.4 464.2,125.4 470.15,125.4 476.1,125.4 481,125.4 485.9,125.4 491.5,125.4 496.4,125.4 501.3,125.4 505.5,125.4 510.05,125.4 514.6,125.4 520.2,125.4 525.8,125.4 529.65,125.4 534.9,125.4" fill="none" stroke="#dc1f26" stroke-width="1.1"/>
<circle cx="434.1" cy="115.74" r="3.1" fill="#e61c24" stroke="#420909" stroke-width="0.8"/>
<circle cx="437.25" cy="114.77" r="3.1" fill="#e61c24" stroke="#420909" stroke-width="0.8"/>
<circle cx="441.45" cy="123.15" r="3.1" fill="#e61c24" stroke="#420909" stroke-width="0.8"/>
<circle cx="446.35" cy="124.43" r="3.1" fill="#e61c24" stroke="#420909" stroke-width="0.8"/>
<circle cx="452.3" cy="125.4" r="3.1" fill="#e61c24" stroke="#420909" stroke-width="0.8"/>
<circle cx="457.2" cy="125.4" r="3.1" fill="#e61c24" stroke="#420909" stroke-width="0.8"/>
<circle cx="459.3" cy="125.4" r="3.1" fill="#e61c24" stroke="#420909" stroke-width="0.8"/>
<circle cx="464.2" cy="125.4" r="3.1" fill="#e61c24" stroke="#420909" stroke-width="0.8"/>
<circle cx="470.15" cy="125.4" r="3.1" fill="#e61c24" stroke="#420909" stroke-width="0.8"/>
<circle cx="476.1" cy="125.4" r="3.1" fill="#e61c24" stroke="#420909" stroke-width="0.8"/>
<circle cx="481" cy="125.4" r="3.1" fill="#e61c24" stroke="#420909" stroke-width="0.8"/>
<circle cx="485.9" cy="125.4" r="3.1" fill="#e61c24" stroke="#420909" stroke-width="0.8"/>
<circle cx="491.5" cy="125.4" r="3.1" fill="#e61c24" stroke="#420909" stroke-width="0.8"/>
<circle cx="496.4" cy="125.4" r="3.1" fill="#e61c24" stroke="#420909" stroke-width="0.8"/>
<circle cx="501.3" cy="125.4" r="3.1" fill="#e61c24" stroke="#420909" stroke-width="0.8"/>
<circle cx="505.5" cy="125.4" r="3.1" fill="#e61c24" stroke="#420909" stroke-width="0.8"/>
<circle cx="510.05" cy="125.4" r="3.1" fill="#e61c24" stroke="#420909" stroke-width="0.8"/>
<circle cx="514.6" cy="125.4" r="3.1" fill="#e61c24" stroke="#420909" stroke-width="0.8"/>
<circle cx="520.2" cy="125.4" r="3.1" fill="#e61c24" stroke="#420909" stroke-width="0.8"/>
<circle cx="525.8" cy="125.4" r="3.1" fill="#e61c24" stroke="#420909" stroke-width="0.8"/>
<circle cx="529.65" cy="125.4" r="3.1" fill="#e61c24" stroke="#420909" stroke-width="0.8"/>
<circle cx="534.9" cy="125.4" r="3.1" fill="#e61c24" stroke="#420909" stroke-width="0.8"/>
<path d="M452.4 95.84L456.1 102.72H448.7Z" fill="#111" stroke="#fff" stroke-width="0.6" paint-order="stroke"/>
<path d="M459.63 102.99L463.33 109.87H455.93Z" fill="#111" stroke="#fff" stroke-width="0.6" paint-order="stroke"/>
<path d="M464.38 102.99L468.08 109.87H460.68Z" fill="#111" stroke="#fff" stroke-width="0.6" paint-order="stroke"/>
<path d="M461.97 111.04L465.67 117.92H458.27Z" fill="#111" stroke="#fff" stroke-width="0.6" paint-order="stroke"/>
<path d="M471.47 102.99L475.17 109.87H467.77Z" fill="#111" stroke="#fff" stroke-width="0.6" paint-order="stroke"/>
<text transform="translate(2 179.5) scale(1.03 1)" font-size="16" font-weight="700" text-anchor="start">d</text>
<line x1="61" x2="61" y1="187.8" y2="296.4" stroke="#b9b9ea" stroke-width="1.1" stroke-dasharray="1.4 1.29"/>
<path d="M57.4 187.3V296.4H167.1" fill="none" stroke="#111" stroke-width="1.1"/>
<line x1="54.0" x2="57.4" y1="296.4" y2="296.4" stroke="#111" stroke-width="1.1"/>
<text transform="translate(48.1 300.75) scale(1.1 1)" font-size="10" font-weight="700" text-anchor="end">0</text>
<line x1="54.0" x2="57.4" y1="260.2" y2="260.2" stroke="#111" stroke-width="1.1"/>
<text transform="translate(48.1 264.55) scale(1.1 1)" font-size="10" font-weight="700" text-anchor="end">500</text>
<line x1="54.0" x2="57.4" y1="224" y2="224" stroke="#111" stroke-width="1.1"/>
<text transform="translate(48.1 228.35) scale(1.1 1)" font-size="10" font-weight="700" text-anchor="end">1000</text>
<line x1="54.0" x2="57.4" y1="187.8" y2="187.8" stroke="#111" stroke-width="1.1"/>
<text transform="translate(48.1 192.15) scale(1.1 1)" font-size="10" font-weight="700" text-anchor="end">1500</text>
<line x1="60.9" x2="60.9" y1="296.4" y2="299.79999999999995" stroke="#111" stroke-width="1.1"/>
<text transform="translate(60.9 313.2) scale(1.1 1)" font-size="10" font-weight="700" text-anchor="middle">0</text>
<line x1="82.14" x2="82.14" y1="296.4" y2="299.79999999999995" stroke="#111" stroke-width="1.1"/>
<text transform="translate(82.14 313.2) scale(1.1 1)" font-size="10" font-weight="700" text-anchor="middle">30</text>
<line x1="103.38" x2="103.38" y1="296.4" y2="299.79999999999995" stroke="#111" stroke-width="1.1"/>
<text transform="translate(103.38 313.2) scale(1.1 1)" font-size="10" font-weight="700" text-anchor="middle">60</text>
<line x1="124.62" x2="124.62" y1="296.4" y2="299.79999999999995" stroke="#111" stroke-width="1.1"/>
<text transform="translate(124.62 313.2) scale(1.1 1)" font-size="10" font-weight="700" text-anchor="middle">90</text>
<line x1="145.86" x2="145.86" y1="296.4" y2="299.79999999999995" stroke="#111" stroke-width="1.1"/>
<text transform="translate(145.86 313.2) scale(1.1 1)" font-size="10" font-weight="700" text-anchor="middle">120</text>
<line x1="167.1" x2="167.1" y1="296.4" y2="299.79999999999995" stroke="#111" stroke-width="1.1"/>
<text transform="translate(167.1 313.2) scale(1.1 1)" font-size="10" font-weight="700" text-anchor="middle">150</text>
<text transform="translate(111.35 329.7) scale(1.015 1)" font-size="9.8" font-weight="700" text-anchor="middle">Days post-treatment</text>
<text transform="translate(11.8 241.4) rotate(-90) scale(1.035 1)" font-size="9.8" font-weight="700" text-anchor="middle">Tumor volume (mm<tspan font-size="6.8" dy="-4">3</tspan><tspan dy="4">)</tspan></text>
<polyline points="60.9,284.09 65.86,275.19 70.81,264.91 75.77,244.56 81.43,207.06" fill="none" stroke="#6a6a6a" stroke-width="1.3"/>
<path d="M60.9 280.69L64.3 284.09L60.9 287.49L57.5 284.09Z" fill="#a9a9a9" stroke="#5c5c5c" stroke-width="1.15"/>
<path d="M65.86 271.79L69.26 275.19L65.86 278.59L62.46 275.19Z" fill="#a9a9a9" stroke="#5c5c5c" stroke-width="1.15"/>
<path d="M70.81 261.51L74.21 264.91L70.81 268.31L67.41 264.91Z" fill="#a9a9a9" stroke="#5c5c5c" stroke-width="1.15"/>
<path d="M75.77 241.16L79.17 244.56L75.77 247.96L72.37 244.56Z" fill="#a9a9a9" stroke="#5c5c5c" stroke-width="1.15"/>
<path d="M81.43 203.66L84.83 207.06L81.43 210.46L78.03 207.06Z" fill="#a9a9a9" stroke="#5c5c5c" stroke-width="1.15"/>
<polyline points="60.9,285.54 65.86,278.3 70.81,267.44 75.77,249.34 81.43,217.48" fill="none" stroke="#6a6a6a" stroke-width="1.3"/>
<path d="M60.9 282.14L64.3 285.54L60.9 288.94L57.5 285.54Z" fill="#a9a9a9" stroke="#5c5c5c" stroke-width="1.15"/>
<path d="M65.86 274.9L69.26 278.3L65.86 281.7L62.46 278.3Z" fill="#a9a9a9" stroke="#5c5c5c" stroke-width="1.15"/>
<path d="M70.81 264.04L74.21 267.44L70.81 270.84L67.41 267.44Z" fill="#a9a9a9" stroke="#5c5c5c" stroke-width="1.15"/>
<path d="M75.77 245.94L79.17 249.34L75.77 252.74L72.37 249.34Z" fill="#a9a9a9" stroke="#5c5c5c" stroke-width="1.15"/>
<path d="M81.43 214.08L84.83 217.48L81.43 220.88L78.03 217.48Z" fill="#a9a9a9" stroke="#5c5c5c" stroke-width="1.15"/>
<polyline points="60.9,284.82 65.86,282.79 70.81,269.68 75.77,252.96 81.43,241.38" fill="none" stroke="#6a6a6a" stroke-width="1.3"/>
<path d="M60.9 281.42L64.3 284.82L60.9 288.22L57.5 284.82Z" fill="#a9a9a9" stroke="#5c5c5c" stroke-width="1.15"/>
<path d="M65.86 279.39L69.26 282.79L65.86 286.19L62.46 282.79Z" fill="#a9a9a9" stroke="#5c5c5c" stroke-width="1.15"/>
<path d="M70.81 266.28L74.21 269.68L70.81 273.08L67.41 269.68Z" fill="#a9a9a9" stroke="#5c5c5c" stroke-width="1.15"/>
<path d="M75.77 249.56L79.17 252.96L75.77 256.36L72.37 252.96Z" fill="#a9a9a9" stroke="#5c5c5c" stroke-width="1.15"/>
<path d="M81.43 237.98L84.83 241.38L81.43 244.78L78.03 241.38Z" fill="#a9a9a9" stroke="#5c5c5c" stroke-width="1.15"/>
<polyline points="60.9,286.26 65.86,281.92 70.81,276.78 75.77,258.9" fill="none" stroke="#6a6a6a" stroke-width="1.3"/>
<path d="M60.9 282.86L64.3 286.26L60.9 289.66L57.5 286.26Z" fill="#a9a9a9" stroke="#5c5c5c" stroke-width="1.15"/>
<path d="M65.86 278.52L69.26 281.92L65.86 285.32L62.46 281.92Z" fill="#a9a9a9" stroke="#5c5c5c" stroke-width="1.15"/>
<path d="M70.81 273.38L74.21 276.78L70.81 280.18L67.41 276.78Z" fill="#a9a9a9" stroke="#5c5c5c" stroke-width="1.15"/>
<path d="M75.77 255.5L79.17 258.9L75.77 262.3L72.37 258.9Z" fill="#a9a9a9" stroke="#5c5c5c" stroke-width="1.15"/>
<polyline points="60.9,284.82 63.02,289.88 65.86,293.5 67.98,294.23 70.81,294.23 72.94,294.23 75.77,293.5 77.89,289.16 81.43,282.64 84.26,268.89 87.8,255.13 100.55,209.52" fill="none" stroke="#3443aa" stroke-width="1.2"/>
<path d="M60.9 288.81L64.6 281.93H57.2Z" fill="#3b4ab8" stroke="#fff" stroke-width="0.7" paint-order="stroke"/>
<path d="M63.02 293.88L66.72 287H59.32Z" fill="#3b4ab8" stroke="#fff" stroke-width="0.7" paint-order="stroke"/>
<path d="M65.86 297.5L69.56 290.62H62.16Z" fill="#3b4ab8" stroke="#fff" stroke-width="0.7" paint-order="stroke"/>
<path d="M67.98 298.22L71.68 291.34H64.28Z" fill="#3b4ab8" stroke="#fff" stroke-width="0.7" paint-order="stroke"/>
<path d="M70.81 298.22L74.51 291.34H67.11Z" fill="#3b4ab8" stroke="#fff" stroke-width="0.7" paint-order="stroke"/>
<path d="M72.94 298.22L76.64 291.34H69.24Z" fill="#3b4ab8" stroke="#fff" stroke-width="0.7" paint-order="stroke"/>
<path d="M75.77 297.5L79.47 290.62H72.07Z" fill="#3b4ab8" stroke="#fff" stroke-width="0.7" paint-order="stroke"/>
<path d="M77.89 293.16L81.59 286.27H74.19Z" fill="#3b4ab8" stroke="#fff" stroke-width="0.7" paint-order="stroke"/>
<path d="M81.43 286.64L85.13 279.76H77.73Z" fill="#3b4ab8" stroke="#fff" stroke-width="0.7" paint-order="stroke"/>
<path d="M84.26 272.88L87.96 266H80.56Z" fill="#3b4ab8" stroke="#fff" stroke-width="0.7" paint-order="stroke"/>
<path d="M87.8 259.13L91.5 252.25H84.1Z" fill="#3b4ab8" stroke="#fff" stroke-width="0.7" paint-order="stroke"/>
<path d="M100.55 213.52L104.25 206.63H96.85Z" fill="#3b4ab8" stroke="#fff" stroke-width="0.7" paint-order="stroke"/>
<polyline points="60.9,289.16 63.02,292.06 65.86,294.23 67.98,294.23 70.81,294.23 72.94,294.23 75.77,292.78 77.89,292.78 81.43,292.78 84.26,285.54 87.8,273.23 105.5,187.8" fill="none" stroke="#3443aa" stroke-width="1.2"/>
<path d="M60.9 293.16L64.6 286.27H57.2Z" fill="#3b4ab8" stroke="#fff" stroke-width="0.7" paint-order="stroke"/>
<path d="M63.02 296.05L66.72 289.17H59.32Z" fill="#3b4ab8" stroke="#fff" stroke-width="0.7" paint-order="stroke"/>
<path d="M65.86 298.22L69.56 291.34H62.16Z" fill="#3b4ab8" stroke="#fff" stroke-width="0.7" paint-order="stroke"/>
<path d="M67.98 298.22L71.68 291.34H64.28Z" fill="#3b4ab8" stroke="#fff" stroke-width="0.7" paint-order="stroke"/>
<path d="M70.81 298.22L74.51 291.34H67.11Z" fill="#3b4ab8" stroke="#fff" stroke-width="0.7" paint-order="stroke"/>
<path d="M72.94 298.22L76.64 291.34H69.24Z" fill="#3b4ab8" stroke="#fff" stroke-width="0.7" paint-order="stroke"/>
<path d="M75.77 296.78L79.47 289.89H72.07Z" fill="#3b4ab8" stroke="#fff" stroke-width="0.7" paint-order="stroke"/>
<path d="M77.89 296.78L81.59 289.89H74.19Z" fill="#3b4ab8" stroke="#fff" stroke-width="0.7" paint-order="stroke"/>
<path d="M81.43 296.78L85.13 289.89H77.73Z" fill="#3b4ab8" stroke="#fff" stroke-width="0.7" paint-order="stroke"/>
<path d="M84.26 289.54L87.96 282.65H80.56Z" fill="#3b4ab8" stroke="#fff" stroke-width="0.7" paint-order="stroke"/>
<path d="M87.8 277.23L91.5 270.35H84.1Z" fill="#3b4ab8" stroke="#fff" stroke-width="0.7" paint-order="stroke"/>
<path d="M105.5 191.8L109.2 184.91H101.8Z" fill="#3b4ab8" stroke="#fff" stroke-width="0.7" paint-order="stroke"/>
<polyline points="60.9,285.54 63.02,290.61 65.86,293.5 67.98,292.78 70.81,289.88 72.94,286.26 75.77,283.37 77.89,281.2 81.43,276.85 84.26,272.51 87.8,268.16 100.55,234.64 105.5,213.21" fill="none" stroke="#3443aa" stroke-width="1.2"/>
<path d="M60.9 289.54L64.6 282.65H57.2Z" fill="#3b4ab8" stroke="#fff" stroke-width="0.7" paint-order="stroke"/>
<path d="M63.02 294.6L66.72 287.72H59.32Z" fill="#3b4ab8" stroke="#fff" stroke-width="0.7" paint-order="stroke"/>
<path d="M65.86 297.5L69.56 290.62H62.16Z" fill="#3b4ab8" stroke="#fff" stroke-width="0.7" paint-order="stroke"/>
<path d="M67.98 296.78L71.68 289.89H64.28Z" fill="#3b4ab8" stroke="#fff" stroke-width="0.7" paint-order="stroke"/>
<path d="M70.81 293.88L74.51 287H67.11Z" fill="#3b4ab8" stroke="#fff" stroke-width="0.7" paint-order="stroke"/>
<path d="M72.94 290.26L76.64 283.38H69.24Z" fill="#3b4ab8" stroke="#fff" stroke-width="0.7" paint-order="stroke"/>
<path d="M75.77 287.36L79.47 280.48H72.07Z" fill="#3b4ab8" stroke="#fff" stroke-width="0.7" paint-order="stroke"/>
<path d="M77.89 285.19L81.59 278.31H74.19Z" fill="#3b4ab8" stroke="#fff" stroke-width="0.7" paint-order="stroke"/>
<path d="M81.43 280.85L85.13 273.97H77.73Z" fill="#3b4ab8" stroke="#fff" stroke-width="0.7" paint-order="stroke"/>
<path d="M84.26 276.5L87.96 269.62H80.56Z" fill="#3b4ab8" stroke="#fff" stroke-width="0.7" paint-order="stroke"/>
<path d="M87.8 272.16L91.5 265.28H84.1Z" fill="#3b4ab8" stroke="#fff" stroke-width="0.7" paint-order="stroke"/>
<path d="M100.55 238.64L104.25 231.76H96.85Z" fill="#3b4ab8" stroke="#fff" stroke-width="0.7" paint-order="stroke"/>
<path d="M105.5 217.21L109.2 210.33H101.8Z" fill="#3b4ab8" stroke="#fff" stroke-width="0.7" paint-order="stroke"/>
<polyline points="60.9,286.99 63.02,291.33 65.86,292.78 67.98,294.23 70.81,294.23 72.94,293.5 75.77,293.5 77.89,288.44 81.43,292.78 84.26,292.78 87.8,291.33 100.55,239.57 105.5,219.8" fill="none" stroke="#3443aa" stroke-width="1.2"/>
<path d="M60.9 290.98L64.6 284.1H57.2Z" fill="#3b4ab8" stroke="#fff" stroke-width="0.7" paint-order="stroke"/>
<path d="M63.02 295.33L66.72 288.45H59.32Z" fill="#3b4ab8" stroke="#fff" stroke-width="0.7" paint-order="stroke"/>
<path d="M65.86 296.78L69.56 289.89H62.16Z" fill="#3b4ab8" stroke="#fff" stroke-width="0.7" paint-order="stroke"/>
<path d="M67.98 298.22L71.68 291.34H64.28Z" fill="#3b4ab8" stroke="#fff" stroke-width="0.7" paint-order="stroke"/>
<path d="M70.81 298.22L74.51 291.34H67.11Z" fill="#3b4ab8" stroke="#fff" stroke-width="0.7" paint-order="stroke"/>
<path d="M72.94 297.5L76.64 290.62H69.24Z" fill="#3b4ab8" stroke="#fff" stroke-width="0.7" paint-order="stroke"/>
<path d="M75.77 297.5L79.47 290.62H72.07Z" fill="#3b4ab8" stroke="#fff" stroke-width="0.7" paint-order="stroke"/>
<path d="M77.89 292.43L81.59 285.55H74.19Z" fill="#3b4ab8" stroke="#fff" stroke-width="0.7" paint-order="stroke"/>
<path d="M81.43 296.78L85.13 289.89H77.73Z" fill="#3b4ab8" stroke="#fff" stroke-width="0.7" paint-order="stroke"/>
<path d="M84.26 296.78L87.96 289.89H80.56Z" fill="#3b4ab8" stroke="#fff" stroke-width="0.7" paint-order="stroke"/>
<path d="M87.8 295.33L91.5 288.45H84.1Z" fill="#3b4ab8" stroke="#fff" stroke-width="0.7" paint-order="stroke"/>
<path d="M100.55 243.56L104.25 236.68H96.85Z" fill="#3b4ab8" stroke="#fff" stroke-width="0.7" paint-order="stroke"/>
<path d="M105.5 223.8L109.2 216.91H101.8Z" fill="#3b4ab8" stroke="#fff" stroke-width="0.7" paint-order="stroke"/>
<polyline points="60.9,287.71 63.02,291.33 65.86,292.78 67.98,293.5 70.81,293.5 72.94,293.5 75.77,293.5 77.89,292.78 81.43,292.06 84.26,287.71 87.8,281.92 100.55,245.72 105.5,225.59" fill="none" stroke="#3443aa" stroke-width="1.2"/>
<path d="M60.9 291.71L64.6 284.83H57.2Z" fill="#3b4ab8" stroke="#fff" stroke-width="0.7" paint-order="stroke"/>
<path d="M63.02 295.33L66.72 288.45H59.32Z" fill="#3b4ab8" stroke="#fff" stroke-width="0.7" paint-order="stroke"/>
<path d="M65.86 296.78L69.56 289.89H62.16Z" fill="#3b4ab8" stroke="#fff" stroke-width="0.7" paint-order="stroke"/>
<path d="M67.98 297.5L71.68 290.62H64.28Z" fill="#3b4ab8" stroke="#fff" stroke-width="0.7" paint-order="stroke"/>
<path d="M70.81 297.5L74.51 290.62H67.11Z" fill="#3b4ab8" stroke="#fff" stroke-width="0.7" paint-order="stroke"/>
<path d="M72.94 297.5L76.64 290.62H69.24Z" fill="#3b4ab8" stroke="#fff" stroke-width="0.7" paint-order="stroke"/>
<path d="M75.77 297.5L79.47 290.62H72.07Z" fill="#3b4ab8" stroke="#fff" stroke-width="0.7" paint-order="stroke"/>
<path d="M77.89 296.78L81.59 289.89H74.19Z" fill="#3b4ab8" stroke="#fff" stroke-width="0.7" paint-order="stroke"/>
<path d="M81.43 296.05L85.13 289.17H77.73Z" fill="#3b4ab8" stroke="#fff" stroke-width="0.7" paint-order="stroke"/>
<path d="M84.26 291.71L87.96 284.83H80.56Z" fill="#3b4ab8" stroke="#fff" stroke-width="0.7" paint-order="stroke"/>
<path d="M87.8 285.92L91.5 279.03H84.1Z" fill="#3b4ab8" stroke="#fff" stroke-width="0.7" paint-order="stroke"/>
<path d="M100.55 249.72L104.25 242.83H96.85Z" fill="#3b4ab8" stroke="#fff" stroke-width="0.7" paint-order="stroke"/>
<path d="M105.5 229.59L109.2 222.71H101.8Z" fill="#3b4ab8" stroke="#fff" stroke-width="0.7" paint-order="stroke"/>
<path d="M105.3 261.9L108.7 265.3L105.3 268.7L101.9 265.3Z" fill="#a9a9a9" stroke="#5c5c5c" stroke-width="1.15"/>
<text transform="translate(117.6 268.4) scale(0.985 1)" font-size="9.2" stroke="#111" stroke-width="0.18" text-anchor="start">Vehicle</text>
<path d="M105.3 282.5L109 275.61H101.6Z" fill="#3b4ab8" stroke="#fff" stroke-width="0.7" paint-order="stroke"/>
<text transform="translate(117.6 281.5) scale(0.985 1)" font-size="9.2" stroke="#111" stroke-width="0.18" text-anchor="start">Cisplatin-</text>
<text transform="translate(117.6 292.2) scale(0.985 1)" font-size="9.2" stroke="#111" stroke-width="0.18" text-anchor="start">etoposide</text>
<text transform="translate(190 175.9) scale(1.03 1)" font-size="16" font-weight="700" text-anchor="start">e</text>
<line x1="247.5" x2="247.5" y1="187.5" y2="296.2" stroke="#c9bfd6" stroke-width="1.1" stroke-dasharray="1.4 1.29"/>
<path d="M243.4 187.0V296.2H352.6" fill="none" stroke="#111" stroke-width="1.1"/>
<line x1="240.0" x2="243.4" y1="296.2" y2="296.2" stroke="#111" stroke-width="1.1"/>
<text transform="translate(234.1 300.65) scale(1.1 1)" font-size="10" font-weight="700" text-anchor="end">0</text>
<line x1="240.0" x2="243.4" y1="260" y2="260" stroke="#111" stroke-width="1.1"/>
<text transform="translate(234.1 264.45) scale(1.1 1)" font-size="10" font-weight="700" text-anchor="end">500</text>
<line x1="240.0" x2="243.4" y1="223.8" y2="223.8" stroke="#111" stroke-width="1.1"/>
<text transform="translate(234.1 228.25) scale(1.1 1)" font-size="10" font-weight="700" text-anchor="end">1000</text>
<line x1="240.0" x2="243.4" y1="187.6" y2="187.6" stroke="#111" stroke-width="1.1"/>
<text transform="translate(234.1 192.05) scale(1.1 1)" font-size="10" font-weight="700" text-anchor="end">1500</text>
<line x1="247.4" x2="247.4" y1="296.2" y2="299.59999999999997" stroke="#111" stroke-width="1.1"/>
<text transform="translate(247.4 313.4) scale(1.1 1)" font-size="10" font-weight="700" text-anchor="middle">0</text>
<line x1="273.7" x2="273.7" y1="296.2" y2="299.59999999999997" stroke="#111" stroke-width="1.1"/>
<text transform="translate(273.7 313.4) scale(1.1 1)" font-size="10" font-weight="700" text-anchor="middle">30</text>
<line x1="300" x2="300" y1="296.2" y2="299.59999999999997" stroke="#111" stroke-width="1.1"/>
<text transform="translate(300 313.4) scale(1.1 1)" font-size="10" font-weight="700" text-anchor="middle">60</text>
<line x1="326.3" x2="326.3" y1="296.2" y2="299.59999999999997" stroke="#111" stroke-width="1.1"/>
<text transform="translate(326.3 313.4) scale(1.1 1)" font-size="10" font-weight="700" text-anchor="middle">90</text>
<line x1="352.6" x2="352.6" y1="296.2" y2="299.59999999999997" stroke="#111" stroke-width="1.1"/>
<text transform="translate(352.6 313.4) scale(1.1 1)" font-size="10" font-weight="700" text-anchor="middle">120</text>
<text transform="translate(296.6 329.8) scale(1.015 1)" font-size="9.8" font-weight="700" text-anchor="middle">Days post-treatment</text>
<text transform="translate(198.8 241.85) rotate(-90) scale(1.035 1)" font-size="9.8" font-weight="700" text-anchor="middle">Tumor volume (mm<tspan font-size="6.8" dy="-4">3</tspan><tspan dy="4">)</tspan></text>
<polyline points="247.4,285.34 250.03,279.55 253.54,253.12 259.67,222.35" fill="none" stroke="#6a6a6a" stroke-width="1.3"/>
<path d="M247.4 281.94L250.8 285.34L247.4 288.74L244 285.34Z" fill="#a9a9a9" stroke="#5c5c5c" stroke-width="1.15"/>
<path d="M250.03 276.15L253.43 279.55L250.03 282.95L246.63 279.55Z" fill="#a9a9a9" stroke="#5c5c5c" stroke-width="1.15"/>
<path d="M253.54 249.72L256.94 253.12L253.54 256.52L250.14 253.12Z" fill="#a9a9a9" stroke="#5c5c5c" stroke-width="1.15"/>
<path d="M259.67 218.95L263.07 222.35L259.67 225.75L256.27 222.35Z" fill="#a9a9a9" stroke="#5c5c5c" stroke-width="1.15"/>
<polyline points="247.4,283.89 250.03,278.1 253.54,262.68 259.67,230.39" fill="none" stroke="#6a6a6a" stroke-width="1.3"/>
<path d="M247.4 280.49L250.8 283.89L247.4 287.29L244 283.89Z" fill="#a9a9a9" stroke="#5c5c5c" stroke-width="1.15"/>
<path d="M250.03 274.7L253.43 278.1L250.03 281.5L246.63 278.1Z" fill="#a9a9a9" stroke="#5c5c5c" stroke-width="1.15"/>
<path d="M253.54 259.28L256.94 262.68L253.54 266.08L250.14 262.68Z" fill="#a9a9a9" stroke="#5c5c5c" stroke-width="1.15"/>
<path d="M259.67 226.99L263.07 230.39L259.67 233.79L256.27 230.39Z" fill="#a9a9a9" stroke="#5c5c5c" stroke-width="1.15"/>
<polyline points="247.4,286.79 250.03,281.72 253.54,268.69 256.61,252.76 259.67,240.02" fill="none" stroke="#6a6a6a" stroke-width="1.3"/>
<path d="M247.4 283.39L250.8 286.79L247.4 290.19L244 286.79Z" fill="#a9a9a9" stroke="#5c5c5c" stroke-width="1.15"/>
<path d="M250.03 278.32L253.43 281.72L250.03 285.12L246.63 281.72Z" fill="#a9a9a9" stroke="#5c5c5c" stroke-width="1.15"/>
<path d="M253.54 265.29L256.94 268.69L253.54 272.09L250.14 268.69Z" fill="#a9a9a9" stroke="#5c5c5c" stroke-width="1.15"/>
<path d="M256.61 249.36L260.01 252.76L256.61 256.16L253.21 252.76Z" fill="#a9a9a9" stroke="#5c5c5c" stroke-width="1.15"/>
<path d="M259.67 236.62L263.07 240.02L259.67 243.42L256.27 240.02Z" fill="#a9a9a9" stroke="#5c5c5c" stroke-width="1.15"/>
<polyline points="247.4,284.62 250.03,281 253.54,271.58 259.67,249.14" fill="none" stroke="#6a6a6a" stroke-width="1.3"/>
<path d="M247.4 281.22L250.8 284.62L247.4 288.02L244 284.62Z" fill="#a9a9a9" stroke="#5c5c5c" stroke-width="1.15"/>
<path d="M250.03 277.6L253.43 281L250.03 284.4L246.63 281Z" fill="#a9a9a9" stroke="#5c5c5c" stroke-width="1.15"/>
<path d="M253.54 268.18L256.94 271.58L253.54 274.98L250.14 271.58Z" fill="#a9a9a9" stroke="#5c5c5c" stroke-width="1.15"/>
<path d="M259.67 245.74L263.07 249.14L259.67 252.54L256.27 249.14Z" fill="#a9a9a9" stroke="#5c5c5c" stroke-width="1.15"/>
<polyline points="247.4,279.91 250.03,281.72 253.54,274.48 256.17,265.79 259.67,251.31 262.3,234.66 265.81,204.98" fill="none" stroke="#3443aa" stroke-width="1.2"/>
<path d="M247.4 283.91L251.1 277.02H243.7Z" fill="#3b4ab8" stroke="#fff" stroke-width="0.7" paint-order="stroke"/>
<path d="M250.03 285.72L253.73 278.83H246.33Z" fill="#3b4ab8" stroke="#fff" stroke-width="0.7" paint-order="stroke"/>
<path d="M253.54 278.48L257.24 271.59H249.84Z" fill="#3b4ab8" stroke="#fff" stroke-width="0.7" paint-order="stroke"/>
<path d="M256.17 269.79L259.87 262.91H252.47Z" fill="#3b4ab8" stroke="#fff" stroke-width="0.7" paint-order="stroke"/>
<path d="M259.67 255.31L263.37 248.43H255.97Z" fill="#3b4ab8" stroke="#fff" stroke-width="0.7" paint-order="stroke"/>
<path d="M262.3 238.66L266 231.77H258.6Z" fill="#3b4ab8" stroke="#fff" stroke-width="0.7" paint-order="stroke"/>
<path d="M265.81 208.97L269.51 202.09H262.11Z" fill="#3b4ab8" stroke="#fff" stroke-width="0.7" paint-order="stroke"/>
<polyline points="247.4,281.72 250.03,283.89 253.54,277.38 256.17,268.69 259.67,255.66 262.3,238.28 265.81,208.02" fill="none" stroke="#3443aa" stroke-width="1.2"/>
<path d="M247.4 285.72L251.1 278.83H243.7Z" fill="#3b4ab8" stroke="#fff" stroke-width="0.7" paint-order="stroke"/>
<path d="M250.03 287.89L253.73 281.01H246.33Z" fill="#3b4ab8" stroke="#fff" stroke-width="0.7" paint-order="stroke"/>
<path d="M253.54 281.37L257.24 274.49H249.84Z" fill="#3b4ab8" stroke="#fff" stroke-width="0.7" paint-order="stroke"/>
<path d="M256.17 272.68L259.87 265.8H252.47Z" fill="#3b4ab8" stroke="#fff" stroke-width="0.7" paint-order="stroke"/>
<path d="M259.67 259.65L263.37 252.77H255.97Z" fill="#3b4ab8" stroke="#fff" stroke-width="0.7" paint-order="stroke"/>
<path d="M262.3 242.28L266 235.39H258.6Z" fill="#3b4ab8" stroke="#fff" stroke-width="0.7" paint-order="stroke"/>
<path d="M265.81 212.01L269.51 205.13H262.11Z" fill="#3b4ab8" stroke="#fff" stroke-width="0.7" paint-order="stroke"/>
<polyline points="247.4,283.17 250.03,285.34 253.54,280.27 256.17,272.31 259.67,260 262.3,242.62 265.81,221.7" fill="none" stroke="#3443aa" stroke-width="1.2"/>
<path d="M247.4 287.16L251.1 280.28H243.7Z" fill="#3b4ab8" stroke="#fff" stroke-width="0.7" paint-order="stroke"/>
<path d="M250.03 289.34L253.73 282.45H246.33Z" fill="#3b4ab8" stroke="#fff" stroke-width="0.7" paint-order="stroke"/>
<path d="M253.54 284.27L257.24 277.39H249.84Z" fill="#3b4ab8" stroke="#fff" stroke-width="0.7" paint-order="stroke"/>
<path d="M256.17 276.3L259.87 269.42H252.47Z" fill="#3b4ab8" stroke="#fff" stroke-width="0.7" paint-order="stroke"/>
<path d="M259.67 264L263.37 257.11H255.97Z" fill="#3b4ab8" stroke="#fff" stroke-width="0.7" paint-order="stroke"/>
<path d="M262.3 246.62L266 239.74H258.6Z" fill="#3b4ab8" stroke="#fff" stroke-width="0.7" paint-order="stroke"/>
<path d="M265.81 225.7L269.51 218.81H262.11Z" fill="#3b4ab8" stroke="#fff" stroke-width="0.7" paint-order="stroke"/>
<polyline points="247.4,284.62 250.03,286.79 253.54,283.17 256.17,275.93 259.67,263.62 262.3,246.97 265.81,227.71" fill="none" stroke="#3443aa" stroke-width="1.2"/>
<path d="M247.4 288.61L251.1 281.73H243.7Z" fill="#3b4ab8" stroke="#fff" stroke-width="0.7" paint-order="stroke"/>
<path d="M250.03 290.78L253.73 283.9H246.33Z" fill="#3b4ab8" stroke="#fff" stroke-width="0.7" paint-order="stroke"/>
<path d="M253.54 287.16L257.24 280.28H249.84Z" fill="#3b4ab8" stroke="#fff" stroke-width="0.7" paint-order="stroke"/>
<path d="M256.17 279.92L259.87 273.04H252.47Z" fill="#3b4ab8" stroke="#fff" stroke-width="0.7" paint-order="stroke"/>
<path d="M259.67 267.62L263.37 260.73H255.97Z" fill="#3b4ab8" stroke="#fff" stroke-width="0.7" paint-order="stroke"/>
<path d="M262.3 250.96L266 244.08H258.6Z" fill="#3b4ab8" stroke="#fff" stroke-width="0.7" paint-order="stroke"/>
<path d="M265.81 231.71L269.51 224.82H262.11Z" fill="#3b4ab8" stroke="#fff" stroke-width="0.7" paint-order="stroke"/>
<polyline points="247.4,286.06 250.03,288.96 253.54,285.34 256.17,279.55 259.67,267.24 262.3,252.76 265.81,231.91" fill="none" stroke="#3443aa" stroke-width="1.2"/>
<path d="M247.4 290.06L251.1 283.18H243.7Z" fill="#3b4ab8" stroke="#fff" stroke-width="0.7" paint-order="stroke"/>
<path d="M250.03 292.96L253.73 286.07H246.33Z" fill="#3b4ab8" stroke="#fff" stroke-width="0.7" paint-order="stroke"/>
<path d="M253.54 289.34L257.24 282.45H249.84Z" fill="#3b4ab8" stroke="#fff" stroke-width="0.7" paint-order="stroke"/>
<path d="M256.17 283.54L259.87 276.66H252.47Z" fill="#3b4ab8" stroke="#fff" stroke-width="0.7" paint-order="stroke"/>
<path d="M259.67 271.24L263.37 264.35H255.97Z" fill="#3b4ab8" stroke="#fff" stroke-width="0.7" paint-order="stroke"/>
<path d="M262.3 256.76L266 249.87H258.6Z" fill="#3b4ab8" stroke="#fff" stroke-width="0.7" paint-order="stroke"/>
<path d="M265.81 235.9L269.51 229.02H262.11Z" fill="#3b4ab8" stroke="#fff" stroke-width="0.7" paint-order="stroke"/>
<polyline points="247.4,288.24 250.03,290.41 253.54,287.51 256.17,283.17 259.67,272.31 262.3,260 265.81,241.18" fill="none" stroke="#3443aa" stroke-width="1.2"/>
<path d="M247.4 292.23L251.1 285.35H243.7Z" fill="#3b4ab8" stroke="#fff" stroke-width="0.7" paint-order="stroke"/>
<path d="M250.03 294.4L253.73 287.52H246.33Z" fill="#3b4ab8" stroke="#fff" stroke-width="0.7" paint-order="stroke"/>
<path d="M253.54 291.51L257.24 284.63H249.84Z" fill="#3b4ab8" stroke="#fff" stroke-width="0.7" paint-order="stroke"/>
<path d="M256.17 287.16L259.87 280.28H252.47Z" fill="#3b4ab8" stroke="#fff" stroke-width="0.7" paint-order="stroke"/>
<path d="M259.67 276.3L263.37 269.42H255.97Z" fill="#3b4ab8" stroke="#fff" stroke-width="0.7" paint-order="stroke"/>
<path d="M262.3 264L266 257.11H258.6Z" fill="#3b4ab8" stroke="#fff" stroke-width="0.7" paint-order="stroke"/>
<path d="M265.81 245.17L269.51 238.29H262.11Z" fill="#3b4ab8" stroke="#fff" stroke-width="0.7" paint-order="stroke"/>
<polyline points="247.4,290.41 250.03,291.13 253.54,288.96 256.17,284.62 259.67,275.2 262.3,262.9 265.81,248.42" fill="none" stroke="#3443aa" stroke-width="1.2"/>
<path d="M247.4 294.4L251.1 287.52H243.7Z" fill="#3b4ab8" stroke="#fff" stroke-width="0.7" paint-order="stroke"/>
<path d="M250.03 295.13L253.73 288.25H246.33Z" fill="#3b4ab8" stroke="#fff" stroke-width="0.7" paint-order="stroke"/>
<path d="M253.54 292.96L257.24 286.07H249.84Z" fill="#3b4ab8" stroke="#fff" stroke-width="0.7" paint-order="stroke"/>
<path d="M256.17 288.61L259.87 281.73H252.47Z" fill="#3b4ab8" stroke="#fff" stroke-width="0.7" paint-order="stroke"/>
<path d="M259.67 279.2L263.37 272.32H255.97Z" fill="#3b4ab8" stroke="#fff" stroke-width="0.7" paint-order="stroke"/>
<path d="M262.3 266.89L266 260.01H258.6Z" fill="#3b4ab8" stroke="#fff" stroke-width="0.7" paint-order="stroke"/>
<path d="M265.81 252.41L269.51 245.53H262.11Z" fill="#3b4ab8" stroke="#fff" stroke-width="0.7" paint-order="stroke"/>
<polyline points="247.4,289.68 250.03,291.86 253.54,289.68 256.17,286.06 259.67,278.1 262.3,265.79 265.81,255.66" fill="none" stroke="#3443aa" stroke-width="1.2"/>
<path d="M247.4 293.68L251.1 286.8H243.7Z" fill="#3b4ab8" stroke="#fff" stroke-width="0.7" paint-order="stroke"/>
<path d="M250.03 295.85L253.73 288.97H246.33Z" fill="#3b4ab8" stroke="#fff" stroke-width="0.7" paint-order="stroke"/>
<path d="M253.54 293.68L257.24 286.8H249.84Z" fill="#3b4ab8" stroke="#fff" stroke-width="0.7" paint-order="stroke"/>
<path d="M256.17 290.06L259.87 283.18H252.47Z" fill="#3b4ab8" stroke="#fff" stroke-width="0.7" paint-order="stroke"/>
<path d="M259.67 282.1L263.37 275.21H255.97Z" fill="#3b4ab8" stroke="#fff" stroke-width="0.7" paint-order="stroke"/>
<path d="M262.3 269.79L266 262.91H258.6Z" fill="#3b4ab8" stroke="#fff" stroke-width="0.7" paint-order="stroke"/>
<path d="M265.81 259.65L269.51 252.77H262.11Z" fill="#3b4ab8" stroke="#fff" stroke-width="0.7" paint-order="stroke"/>
<path d="M290.1 264.4L293.5 267.8L290.1 271.2L286.7 267.8Z" fill="#a9a9a9" stroke="#5c5c5c" stroke-width="1.15"/>
<text transform="translate(302.6 270.9) scale(0.985 1)" font-size="9.2" stroke="#111" stroke-width="0.18" text-anchor="start">Vehicle</text>
<path d="M290.1 283.9L293.8 277.01H286.4Z" fill="#3b4ab8" stroke="#fff" stroke-width="0.7" paint-order="stroke"/>
<text transform="translate(302.6 283.5) scale(0.985 1)" font-size="9.2" stroke="#111" stroke-width="0.18" text-anchor="start">Cisplatin-</text>
<text transform="translate(302.6 293.6) scale(0.985 1)" font-size="9.2" stroke="#111" stroke-width="0.18" text-anchor="start">etoposide</text>
<text transform="translate(379.3 179.5) scale(1.03 1)" font-size="16" font-weight="700" text-anchor="start">f</text>
<line x1="434.8" x2="434.8" y1="187.1" y2="295.9" stroke="#b9b9ea" stroke-width="1.1" stroke-dasharray="1.4 1.29"/>
<path d="M431 186.6V295.9H540.3" fill="none" stroke="#111" stroke-width="1.1"/>
<line x1="427.6" x2="431" y1="295.9" y2="295.9" stroke="#111" stroke-width="1.1"/>
<text transform="translate(421.7 300.05) scale(1.1 1)" font-size="10" font-weight="700" text-anchor="end">0</text>
<line x1="427.6" x2="431" y1="259.63" y2="259.63" stroke="#111" stroke-width="1.1"/>
<text transform="translate(421.7 263.78) scale(1.1 1)" font-size="10" font-weight="700" text-anchor="end">500</text>
<line x1="427.6" x2="431" y1="223.37" y2="223.37" stroke="#111" stroke-width="1.1"/>
<text transform="translate(421.7 227.52) scale(1.1 1)" font-size="10" font-weight="700" text-anchor="end">1000</text>
<line x1="427.6" x2="431" y1="187.1" y2="187.1" stroke="#111" stroke-width="1.1"/>
<text transform="translate(421.7 191.25) scale(1.1 1)" font-size="10" font-weight="700" text-anchor="end">1500</text>
<line x1="434.2" x2="434.2" y1="295.9" y2="299.29999999999995" stroke="#111" stroke-width="1.1"/>
<text transform="translate(434.2 313.5) scale(1.1 1)" font-size="10" font-weight="700" text-anchor="middle">0</text>
<line x1="455.41" x2="455.41" y1="295.9" y2="299.29999999999995" stroke="#111" stroke-width="1.1"/>
<text transform="translate(455.41 313.5) scale(1.1 1)" font-size="10" font-weight="700" text-anchor="middle">30</text>
<line x1="476.62" x2="476.62" y1="295.9" y2="299.29999999999995" stroke="#111" stroke-width="1.1"/>
<text transform="translate(476.62 313.5) scale(1.1 1)" font-size="10" font-weight="700" text-anchor="middle">60</text>
<line x1="497.83" x2="497.83" y1="295.9" y2="299.29999999999995" stroke="#111" stroke-width="1.1"/>
<text transform="translate(497.83 313.5) scale(1.1 1)" font-size="10" font-weight="700" text-anchor="middle">90</text>
<line x1="519.04" x2="519.04" y1="295.9" y2="299.29999999999995" stroke="#111" stroke-width="1.1"/>
<text transform="translate(519.04 313.5) scale(1.1 1)" font-size="10" font-weight="700" text-anchor="middle">120</text>
<line x1="540.25" x2="540.25" y1="295.9" y2="299.29999999999995" stroke="#111" stroke-width="1.1"/>
<text transform="translate(540.25 313.5) scale(1.1 1)" font-size="10" font-weight="700" text-anchor="middle">150</text>
<text transform="translate(485.75 330.8) scale(1.015 1)" font-size="9.8" font-weight="700" text-anchor="middle">Days post-treatment</text>
<text transform="translate(386.4 241) rotate(-90) scale(1.035 1)" font-size="9.8" font-weight="700" text-anchor="middle">Tumor volume (mm<tspan font-size="6.8" dy="-4">3</tspan><tspan dy="4">)</tspan></text>
<polyline points="434.2,285.02 439.15,217.57 444.1,190.01" fill="none" stroke="#6a6a6a" stroke-width="1.3"/>
<path d="M434.2 281.62L437.6 285.02L434.2 288.42L430.8 285.02Z" fill="#a9a9a9" stroke="#5c5c5c" stroke-width="1.15"/>
<path d="M439.15 214.17L442.55 217.57L439.15 220.97L435.75 217.57Z" fill="#a9a9a9" stroke="#5c5c5c" stroke-width="1.15"/>
<path d="M444.1 186.61L447.5 190.01L444.1 193.41L440.7 190.01Z" fill="#a9a9a9" stroke="#5c5c5c" stroke-width="1.15"/>
<polyline points="434.2,286.47 439.15,259.63 444.1,216.84 449.05,193.27" fill="none" stroke="#6a6a6a" stroke-width="1.3"/>
<path d="M434.2 283.07L437.6 286.47L434.2 289.87L430.8 286.47Z" fill="#a9a9a9" stroke="#5c5c5c" stroke-width="1.15"/>
<path d="M439.15 256.24L442.55 259.63L439.15 263.03L435.75 259.63Z" fill="#a9a9a9" stroke="#5c5c5c" stroke-width="1.15"/>
<path d="M444.1 213.44L447.5 216.84L444.1 220.24L440.7 216.84Z" fill="#a9a9a9" stroke="#5c5c5c" stroke-width="1.15"/>
<path d="M449.05 189.87L452.45 193.27L449.05 196.67L445.65 193.27Z" fill="#a9a9a9" stroke="#5c5c5c" stroke-width="1.15"/>
<polyline points="434.2,288.65 439.15,272.69 444.1,235.7" fill="none" stroke="#6a6a6a" stroke-width="1.3"/>
<path d="M434.2 285.25L437.6 288.65L434.2 292.05L430.8 288.65Z" fill="#a9a9a9" stroke="#5c5c5c" stroke-width="1.15"/>
<path d="M439.15 269.29L442.55 272.69L439.15 276.09L435.75 272.69Z" fill="#a9a9a9" stroke="#5c5c5c" stroke-width="1.15"/>
<path d="M444.1 232.3L447.5 235.7L444.1 239.1L440.7 235.7Z" fill="#a9a9a9" stroke="#5c5c5c" stroke-width="1.15"/>
<polyline points="434.2,284.3 439.15,281.39 444.1,279.94 449.05,260.36" fill="none" stroke="#6a6a6a" stroke-width="1.3"/>
<path d="M434.2 280.9L437.6 284.3L434.2 287.7L430.8 284.3Z" fill="#a9a9a9" stroke="#5c5c5c" stroke-width="1.15"/>
<path d="M439.15 277.99L442.55 281.39L439.15 284.79L435.75 281.39Z" fill="#a9a9a9" stroke="#5c5c5c" stroke-width="1.15"/>
<path d="M444.1 276.54L447.5 279.94L444.1 283.34L440.7 279.94Z" fill="#a9a9a9" stroke="#5c5c5c" stroke-width="1.15"/>
<path d="M449.05 256.96L452.45 260.36L449.05 263.76L445.65 260.36Z" fill="#a9a9a9" stroke="#5c5c5c" stroke-width="1.15"/>
<polyline points="434.2,274.14 439.15,263.26 444.1,248.76 449.05,203.79" fill="none" stroke="#3443aa" stroke-width="1.2"/>
<path d="M434.2 278.14L437.9 271.25H430.5Z" fill="#3b4ab8" stroke="#fff" stroke-width="0.7" paint-order="stroke"/>
<path d="M439.15 267.26L442.85 260.38H435.45Z" fill="#3b4ab8" stroke="#fff" stroke-width="0.7" paint-order="stroke"/>
<path d="M444.1 252.75L447.8 245.87H440.4Z" fill="#3b4ab8" stroke="#fff" stroke-width="0.7" paint-order="stroke"/>
<path d="M449.05 207.78L452.75 200.9H445.35Z" fill="#3b4ab8" stroke="#fff" stroke-width="0.7" paint-order="stroke"/>
<polyline points="434.2,286.47 439.15,290.1 444.1,258.18 449.05,243.68 454.35,203.79" fill="none" stroke="#3443aa" stroke-width="1.2"/>
<path d="M434.2 290.47L437.9 283.59H430.5Z" fill="#3b4ab8" stroke="#fff" stroke-width="0.7" paint-order="stroke"/>
<path d="M439.15 294.09L442.85 287.21H435.45Z" fill="#3b4ab8" stroke="#fff" stroke-width="0.7" paint-order="stroke"/>
<path d="M444.1 262.18L447.8 255.3H440.4Z" fill="#3b4ab8" stroke="#fff" stroke-width="0.7" paint-order="stroke"/>
<path d="M449.05 247.67L452.75 240.79H445.35Z" fill="#3b4ab8" stroke="#fff" stroke-width="0.7" paint-order="stroke"/>
<path d="M454.35 207.78L458.05 200.9H450.65Z" fill="#3b4ab8" stroke="#fff" stroke-width="0.7" paint-order="stroke"/>
<polyline points="434.2,289.37 439.15,289.37 444.1,283.57 449.05,271.24 454.35,253.83" fill="none" stroke="#3443aa" stroke-width="1.2"/>
<path d="M434.2 293.37L437.9 286.49H430.5Z" fill="#3b4ab8" stroke="#fff" stroke-width="0.7" paint-order="stroke"/>
<path d="M439.15 293.37L442.85 286.49H435.45Z" fill="#3b4ab8" stroke="#fff" stroke-width="0.7" paint-order="stroke"/>
<path d="M444.1 287.57L447.8 280.68H440.4Z" fill="#3b4ab8" stroke="#fff" stroke-width="0.7" paint-order="stroke"/>
<path d="M449.05 275.24L452.75 268.35H445.35Z" fill="#3b4ab8" stroke="#fff" stroke-width="0.7" paint-order="stroke"/>
<path d="M454.35 257.83L458.05 250.95H450.65Z" fill="#3b4ab8" stroke="#fff" stroke-width="0.7" paint-order="stroke"/>
<polyline points="434.2,291.55 439.15,293 444.1,288.65 449.05,276.32 454.35,261.09" fill="none" stroke="#3443aa" stroke-width="1.2"/>
<path d="M434.2 295.54L437.9 288.66H430.5Z" fill="#3b4ab8" stroke="#fff" stroke-width="0.7" paint-order="stroke"/>
<path d="M439.15 296.99L442.85 290.11H435.45Z" fill="#3b4ab8" stroke="#fff" stroke-width="0.7" paint-order="stroke"/>
<path d="M444.1 292.64L447.8 285.76H440.4Z" fill="#3b4ab8" stroke="#fff" stroke-width="0.7" paint-order="stroke"/>
<path d="M449.05 280.31L452.75 273.43H445.35Z" fill="#3b4ab8" stroke="#fff" stroke-width="0.7" paint-order="stroke"/>
<path d="M454.35 265.08L458.05 258.2H450.65Z" fill="#3b4ab8" stroke="#fff" stroke-width="0.7" paint-order="stroke"/>
<polyline points="434.2,285.75 439.15,293.72 444.1,287.92 449.05,281.39" fill="none" stroke="#3443aa" stroke-width="1.2"/>
<path d="M434.2 289.74L437.9 282.86H430.5Z" fill="#3b4ab8" stroke="#fff" stroke-width="0.7" paint-order="stroke"/>
<path d="M439.15 297.72L442.85 290.84H435.45Z" fill="#3b4ab8" stroke="#fff" stroke-width="0.7" paint-order="stroke"/>
<path d="M444.1 291.92L447.8 285.04H440.4Z" fill="#3b4ab8" stroke="#fff" stroke-width="0.7" paint-order="stroke"/>
<path d="M449.05 285.39L452.75 278.51H445.35Z" fill="#3b4ab8" stroke="#fff" stroke-width="0.7" paint-order="stroke"/>
<path d="M476.8 262.3L480.2 265.7L476.8 269.1L473.4 265.7Z" fill="#a9a9a9" stroke="#5c5c5c" stroke-width="1.15"/>
<text transform="translate(489.3 268.7) scale(0.985 1)" font-size="9.2" stroke="#111" stroke-width="0.18" text-anchor="start">Vehicle</text>
<path d="M476.8 281.8L480.5 274.91H473.1Z" fill="#3b4ab8" stroke="#fff" stroke-width="0.7" paint-order="stroke"/>
<text transform="translate(489.3 281.2) scale(0.985 1)" font-size="9.2" stroke="#111" stroke-width="0.18" text-anchor="start">Cisplatin</text>
</svg>
</body></html>
